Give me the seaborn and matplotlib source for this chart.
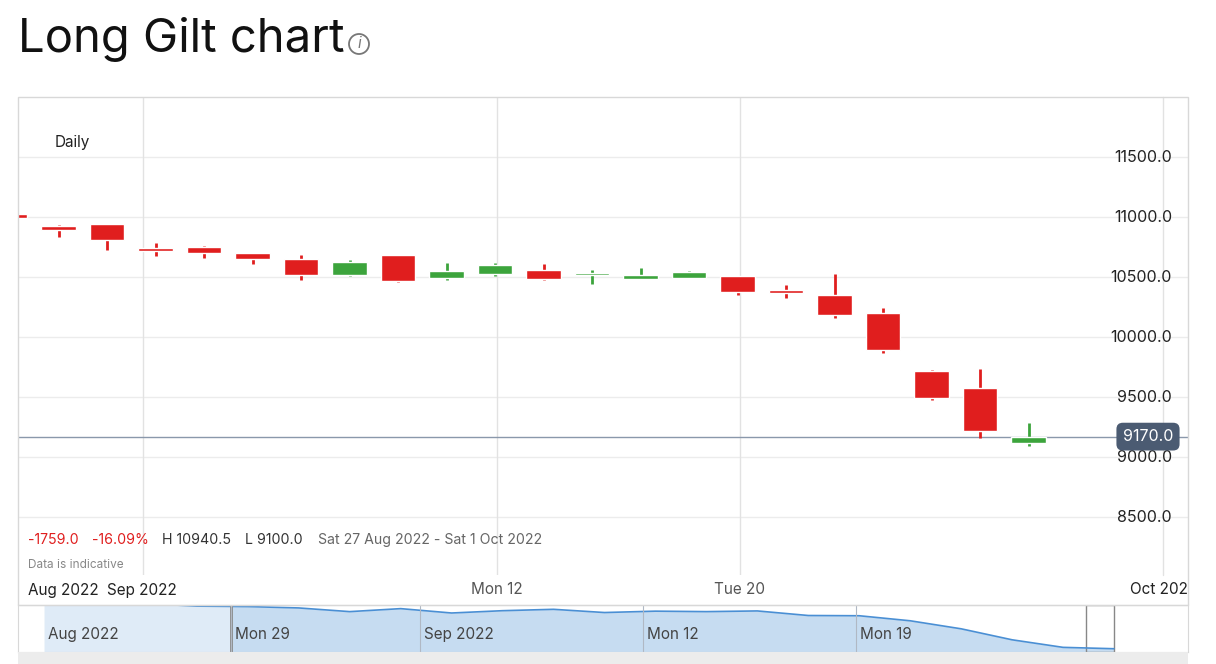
import matplotlib.pyplot as plt
import matplotlib.transforms as mtransforms
from matplotlib.patches import Rectangle, Ellipse
import seaborn as sns
import pandas as pd

# daily OHLC, 27 Aug - 1 Oct 2022
opens = [11028, 10928, 10944, 10744, 10753, 10703, 10653, 10519, 10686, 10494, 10528,
         10561, 10519, 10486, 10494, 10511, 10394, 10353, 10203, 9719, 9578, 9119]
closes = [10994, 10894, 10811, 10719, 10703, 10653, 10519, 10628, 10469, 10553, 10603,
          10486, 10536, 10519, 10544, 10378, 10369, 10186, 9894, 9494, 9219, 9169]
highs = [11028, 10936, 10944, 10786, 10761, 10703, 10686, 10644, 10686, 10619, 10619,
         10611, 10561, 10578, 10553, 10511, 10436, 10528, 10244, 9728, 9736, 9286]
lows = [10994, 10836, 10728, 10678, 10661, 10611, 10478, 10511, 10461, 10478, 10511,
        10478, 10444, 10486, 10494, 10353, 10328, 10161, 9869, 9478, 9161, 9094]
last_price = 9170.0
y_ticks = [8500, 9000, 9500, 10000, 10500, 11000, 11500]
date_ticks = [2.74, 10.04, 15.05, 23.77]
date_labels = ["Sep 2022", "Mon 12", "Tue 20", "Oct 202"]
nav_labels = ["Aug 2022", "Mon 29", "Sep 2022", "Mon 12", "Mon 19"]
nav_pos = [44, 231, 420, 643, 856]

RED = "#e01e1e"
GREEN = "#3ca43c"
W, H = 1216, 664
STEP = 48.5
X0 = 10

sns.set_style("white")
plt.rcParams['font.family'] = ['Inter', 'DejaVu Sans']
fig = plt.figure(figsize=(W / 100, H / 100), dpi=100)

def fx(px):
    return px / W

def fy(py):
    return 1 - py / H

fig.text(fx(18), fy(40), "Long Gilt chart", fontsize=34, color="#111111", va="center")
fig.patches.append(Ellipse((fx(359), fy(44)), 20 / W, 20 / H, transform=fig.transFigure,
                           fill=False, edgecolor="#777777", lw=1.3))
fig.text(fx(359), fy(44), "i", fontsize=11, style="italic", color="#777777", ha="center", va="center")

# outer box
fig.patches.append(Rectangle((fx(18), fy(605)), fx(1188) - fx(18), fy(97) - fy(605),
                             transform=fig.transFigure, fill=False, edgecolor="#d8d8d8", lw=1))

ax = fig.add_axes([fx(18), fy(575), fx(1188) - fx(18), fy(97) - fy(575)])
xmin = (18 - X0) / STEP
xmax = (1188 - X0) / STEP
ax.set_xlim(xmin, xmax)
ax.set_ylim(8017, 12000)
for s in ax.spines.values():
    s.set_visible(False)
ax.set_xticks([])
ax.set_yticks([])
for t in y_ticks:
    ax.axhline(t, color="#ececec", lw=1, zorder=0)
for d in date_ticks[:3]:
    ax.axvline(d, color="#e2e2e2", lw=1, zorder=0)
ax.plot([date_ticks[3], date_ticks[3]], [8017, 12000], color="#e2e2e2", lw=1, zorder=0, clip_on=False)

df = pd.DataFrame({"o": opens, "c": closes, "h": highs, "l": lows})
df["i"] = range(len(df))
df["col"] = [GREEN if c > o else RED for o, c in zip(opens, closes)]
ax.vlines(df["i"], df["l"], df["h"], colors=df["col"], lw=2, zorder=2)
ax.bar(df["i"], (df["c"] - df["o"]).abs().clip(lower=12), bottom=df[["o", "c"]].min(axis=1),
       width=0.72, color=df["col"], zorder=3)

ax.axhline(last_price, color="#8a98ab", lw=1, zorder=1)
trans = mtransforms.blended_transform_factory(ax.transAxes, ax.transData)
xr = (1172 - 18) / 1170
for t in y_ticks:
    if abs(t - last_price) > 150:
        ax.text(xr, t, f"{t:.1f}", transform=trans, ha="right", va="center", fontsize=11.5, color="#222222")
ax.text((1148 - 18) / 1170, last_price, f"{last_price:.1f}", transform=trans, ha="center", va="center",
        fontsize=11.5, color="white",
        bbox=dict(boxstyle="round,pad=0.4", fc="#4b5b72", ec="none"))

fig.text(fx(55), fy(142), "Daily", fontsize=11, color="#222222", va="center")

# stats row
stats = [("-1759.0", 28, RED), ("-16.09%", 92, RED), ("H 10940.5", 162, "#333333"),
         ("L 9100.0", 245, "#333333"), ("Sat 27 Aug 2022 - Sat 1 Oct 2022", 318, "#666666")]
for txt, x, c in stats:
    fig.text(fx(x), fy(540), txt, fontsize=10.2, color=c, va="center")
fig.text(fx(28), fy(565), "Data is indicative", fontsize=8.5, color="#888888", va="center")

# date labels
fig.text(fx(28), fy(590), "Aug 2022", fontsize=11, color="#222222", va="center")
for d, lab in zip(date_ticks, date_labels):
    px = X0 + STEP * d
    if lab == "Sep 2022":
        fig.text(fx(107), fy(590), lab, fontsize=11, color="#222222", va="center")
    elif lab.startswith("Oct"):
        fig.text(fx(1130), fy(590), lab, fontsize=11, color="#222222", va="center")
    else:
        fig.text(fx(px), fy(590), lab, fontsize=11, color="#555555", va="center", ha="center")

# navigator
nav = fig.add_axes([fx(18), fy(652), fx(1188) - fx(18), fy(605) - fy(652)])
nav.set_xlim(18, 1188)
nav.set_ylim(9050, 10760)
nav_df = pd.DataFrame({"x": [44 + (1114 - 44) * i / (len(closes) - 1) for i in range(len(closes))],
                       "c": closes})
nav.fill_between(nav_df["x"], nav_df["c"], 9050, color="#c6dcf1", lw=0)
sns.lineplot(data=nav_df, x="x", y="c", ax=nav, color="#4a8fd4", lw=1.2)
nav.axvspan(44, 231, color="white", alpha=0.45, lw=0)
nav.axvline(231, color="#888888", lw=2)
nav.add_patch(Rectangle((1086, 9050), 28, 1710, fill=False, edgecolor="#888888", lw=1))
for p, lab in zip(nav_pos, nav_labels):
    if p > 44:
        nav.axvline(p, color="#b0b8c4", lw=0.8)
    nav.text(p + 4, 9700, lab, fontsize=11, color="#444444", va="center")
nav.set_xticks([])
nav.set_yticks([])
nav.set_xlabel("")
nav.set_ylabel("")
for s in nav.spines.values():
    s.set_color("#d8d8d8")

fig.patches.append(Rectangle((fx(18), 0), fx(1188) - fx(18), fy(652), transform=fig.transFigure,
                             color="#ececec", lw=0))

fig.savefig("out.png", dpi=100)
